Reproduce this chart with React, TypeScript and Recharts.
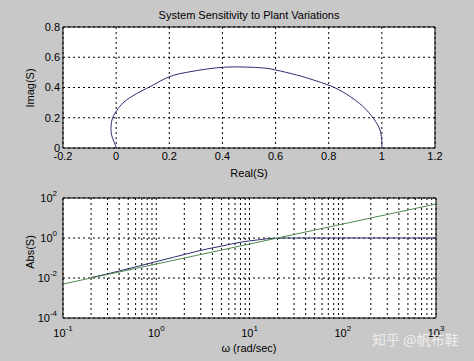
import React from 'react';
import {
  LineChart,
  Line,
  XAxis,
  YAxis,
  CartesianGrid,
  ReferenceArea,
} from 'recharts';

// top: Nyquist plot of S (real, imag)
const SENS_RE = [0, -0.004, -0.017, -0.019, -0.013, 0.008, 0.039, 0.09, 0.14, 0.2, 0.265, 0.34, 0.415, 0.49, 0.554, 0.6, 0.679, 0.742, 0.805, 0.868, 0.93, 0.968, 0.993, 1.0, 1.0];
const SENS_IM = [0, 0.024, 0.086, 0.141, 0.2, 0.262, 0.317, 0.372, 0.417, 0.471, 0.5, 0.522, 0.535, 0.535, 0.529, 0.516, 0.483, 0.45, 0.412, 0.355, 0.273, 0.196, 0.119, 0.04, 0];
const RE_TICKS = [-0.2, 0, 0.2, 0.4, 0.6, 0.8, 1, 1.2];
const IM_TICKS = [0, 0.2, 0.4, 0.6, 0.8];

// bottom: |S| and the low-frequency asymptote
const OMEGA = [0.2, 0.3, 0.5, 0.67, 1, 1.52, 2, 3.47, 5.24, 7.9, 11.9, 15, 19.5, 25, 100, 1000];
const ABS_S = [0.0105, 0.016, 0.029, 0.041, 0.066, 0.108, 0.15, 0.28, 0.41, 0.61, 0.79, 0.9, 0.97, 1.0, 1.0, 1.0];
const OMEGA_ASYM = [0.1, 1, 10, 100, 1000];
const ASYM = [0.005, 0.05, 0.5, 5, 50];
const DECADES = [0.1, 1, 10, 100];
const W_TICKS = [...DECADES.flatMap((d) => [1, 2, 3, 4, 5, 6, 7, 8, 9].map((k) => +(d * k).toPrecision(3))), 1000];
const ABS_TICKS = [1e-4, 1e-2, 1, 100];

const nyquistData = SENS_RE.map((re, i) => ({ re, im: SENS_IM[i] }));
const absData = OMEGA.map((w, i) => ({ w, v: ABS_S[i] }));
const asymData = OMEGA_ASYM.map((w, i) => ({ w, v: ASYM[i] }));

const FONT = '"Liberation Sans", Arial, sans-serif';
const BG = '#c8c8c8';
const BLUE = '#2e2e6e';
const GREEN = '#4f8a4f';

const isDecade = (v: number) => Math.abs(Math.log10(v) - Math.round(Math.log10(v))) < 1e-6;

const LogXTick = ({ x, y, payload }: any) => {
  const v = payload.value;
  if (!isDecade(v)) return null;
  return (
    <text x={x} y={y + 19} textAnchor="middle" fontSize={11} fontFamily={FONT} fill="#000">
      <tspan>10</tspan>
      <tspan dy={-6} fontSize={8}>{Math.round(Math.log10(v))}</tspan>
    </text>
  );
};

const LogYTick = ({ x, y, payload }: any) => {
  const v = payload.value;
  return (
    <text x={x} y={y + 4} textAnchor="end" fontSize={11} fontFamily={FONT} fill="#000">
      <tspan>10</tspan>
      <tspan dy={-6} fontSize={8}>{Math.round(Math.log10(v))}</tspan>
    </text>
  );
};

const Label = ({ x, y, text, rotate = false, size = 11 }: { x: number; y: number; text: string; rotate?: boolean; size?: number }) => (
  <div
    style={{
      position: 'absolute',
      left: x,
      top: y,
      transform: `translate(-50%, -50%)${rotate ? ' rotate(-90deg)' : ''}`,
      fontFamily: FONT,
      fontSize: size,
      lineHeight: 1,
      whiteSpace: 'nowrap',
      color: '#000',
    }}
  >
    {text}
  </div>
);

export default function App() {
  return (
    <div style={{ position: 'absolute', left: 0, top: 0, width: 474, height: 361, background: BG, overflow: 'hidden' }}>
      <div style={{ position: 'absolute', left: 0, top: 0 }}>
        <LineChart width={474} height={180} data={nyquistData} margin={{ top: 27, right: 39, bottom: 0, left: 23 }}>
          <CartesianGrid stroke="#000" strokeDasharray="2 3" fill="#fff" />
          <XAxis
            dataKey="re"
            type="number"
            domain={[-0.2, 1.2]}
            ticks={RE_TICKS}
            height={32}
            tickSize={0}
            tickMargin={4}
            axisLine={false}
            tickLine={false}
            tick={{ fontSize: 11, fontFamily: FONT, fill: '#000' }}
            allowDataOverflow
          />
          <YAxis
            type="number"
            domain={[0, 0.8]}
            ticks={IM_TICKS}
            width={40}
            tickSize={0}
            tickMargin={3}
            axisLine={false}
            tickLine={false}
            tick={{ fontSize: 11, fontFamily: FONT, fill: '#000' }}
            allowDataOverflow
          />
          <ReferenceArea x1={-0.2} x2={1.2} y1={0} y2={0.8} fill="none" stroke="#000" strokeWidth={1} />
          <Line dataKey="im" type="natural" stroke={BLUE} strokeWidth={1} dot={false} isAnimationActive={false} />
        </LineChart>
      </div>
      <div style={{ position: 'absolute', left: 0, top: 180 }}>
        <LineChart width={474} height={181} margin={{ top: 18, right: 38, bottom: 0, left: 23 }}>
          <CartesianGrid stroke="#000" strokeDasharray="2 3" fill="#fff" />
          <XAxis
            dataKey="w"
            type="number"
            scale="log"
            domain={[0.1, 1000]}
            ticks={W_TICKS}
            interval={0}
            height={43}
            tickSize={0}
            tickMargin={0}
            axisLine={false}
            tickLine={false}
            tick={<LogXTick />}
            allowDataOverflow
          />
          <YAxis
            type="number"
            scale="log"
            domain={[1e-4, 100]}
            ticks={ABS_TICKS}
            interval={0}
            width={40}
            tickSize={0}
            tickMargin={6}
            axisLine={false}
            tickLine={false}
            tick={<LogYTick />}
            allowDataOverflow
          />
          <ReferenceArea x1={0.1} x2={1000} y1={1e-4} y2={100} fill="none" stroke="#000" strokeWidth={1} />
          <Line data={absData} dataKey="v" type="monotone" stroke={BLUE} strokeWidth={1} dot={false} isAnimationActive={false} />
          <Line data={asymData} dataKey="v" type="linear" stroke={GREEN} strokeWidth={1} dot={false} isAnimationActive={false} />
        </LineChart>
      </div>
      <Label x={249} y={15} text="System Sensitivity to Plant Variations" />
      <Label x={249} y={173} text="Real(S)" />
      <Label x={30} y={88} text="Imag(S)" rotate />
      <Label x={249} y={348} text="ω (rad/sec)" />
      <Label x={30} y={252} text="Abs(S)" rotate />
      <div
        style={{
          position: 'absolute',
          left: 372,
          top: 332,
          fontFamily: '"Noto Sans CJK SC", sans-serif',
          fontSize: 14,
          lineHeight: 1,
          color: 'rgba(255,255,255,0.7)',
          whiteSpace: 'nowrap',
        }}
      >
        知乎 @帆布鞋
      </div>
    </div>
  );
}
